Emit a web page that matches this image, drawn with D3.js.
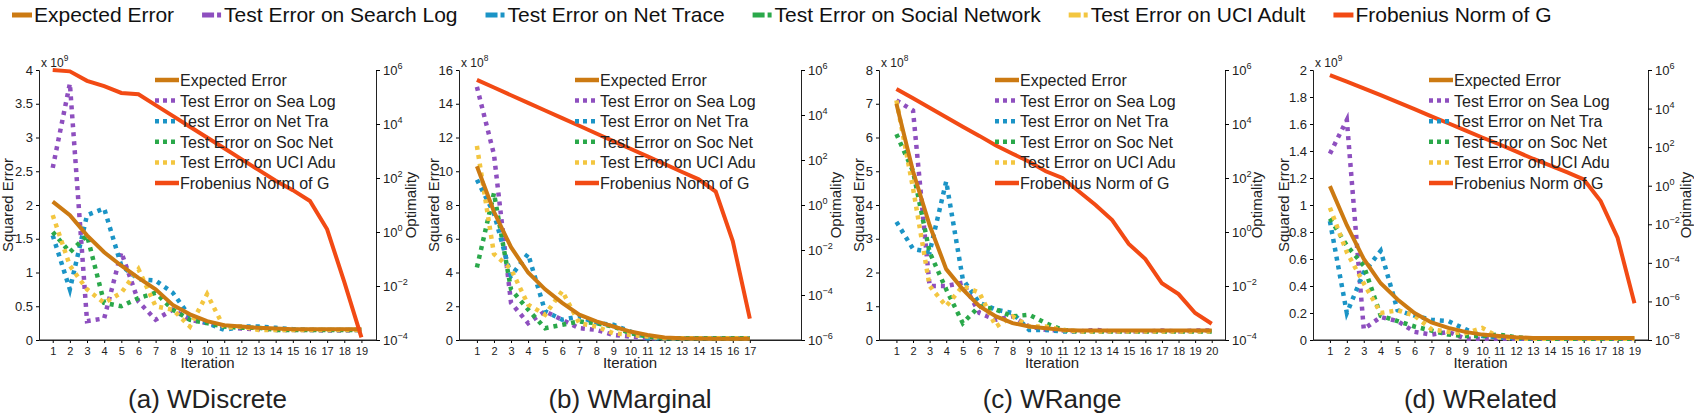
<!DOCTYPE html>
<html><head><meta charset="utf-8">
<script src="https://cdn.jsdelivr.net/npm/d3@7"></script>
<style>body{margin:0;background:#fff}text{font-family:"Liberation Sans",Arial,sans-serif}</style>
</head><body><svg id="c" width="1694" height="416"></svg>
<script>
const seriesNames=["Expected Error","Test Error on Search Log","Test Error on Net Trace","Test Error on Social Network","Test Error on UCI Adult","Frobenius Norm of G"];
const innerNames=["Expected Error","Test Error on Sea Log","Test Error on Net Tra","Test Error on Soc Net","Test Error on UCI Adu","Frobenius Norm of G"];
const colors=["#cc7a12","#8e4fbf","#1b94c6","#2aa84a","#f3c640","#f24a14"];
const titles=["(a) WDiscrete","(b) WMarginal","(c) WRange","(d) WRelated"];
const expA=[2.05,1.85,1.55,1.3,1.1,0.92,0.75,0.52,0.38,0.28,0.22,0.2,0.18,0.17,0.16,0.16,0.16,0.16,0.16];
const seaA=[2.55,3.8,0.28,0.32,1.3,0.57,0.3,0.45,0.3,0.25,0.2,0.17,0.16,0.15,0.15,0.15,0.14,0.14,0.15];
const netA=[1.55,0.75,1.85,1.95,1.1,0.9,0.88,0.7,0.35,0.25,0.15,0.2,0.2,0.18,0.16,0.15,0.15,0.15,0.15];
const socA=[1.6,1.3,1.55,0.55,0.5,0.62,0.7,0.45,0.3,0.25,0.2,0.18,0.18,0.15,0.15,0.15,0.15,0.15,0.15];
const uciA=[1.85,1.1,0.75,0.55,0.7,1.05,0.5,0.45,0.2,0.68,0.18,0.2,0.15,0.15,0.15,0.15,0.15,0.15,0.15];
const frobA=[6.0,5.95,5.6,5.4,5.15,5.1,4.7,4.3,3.9,3.5,3.1,2.7,2.3,1.9,1.55,1.15,0.1,-1.85,-3.9];
const expB=[10.3,7.6,5.5,4.0,3.0,2.2,1.5,1.1,0.8,0.5,0.3,0.15,0.1,0.09,0.08,0.08,0.08];
const seaB=[15,11,2.2,1.0,1.7,1.2,0.7,0.6,0.3,0.2,0.1,0.1,0.1,0.1,0.1,0.1,0.1];
const netB=[9.5,7.5,3.8,5.1,1.7,1.2,1.4,1.0,0.9,0.5,0.1,0.1,0.1,0.1,0.1,0.1,0.1];
const socB=[4.3,8.7,3.0,1.8,0.7,0.9,1.1,1.0,0.8,0.4,0.2,0.1,0.1,0.1,0.1,0.1,0.1];
const uciB=[11.5,5.1,4.2,2.1,1.5,2.9,1.0,0.8,0.4,0.3,0.2,0.1,0.1,0.1,0.1,0.1,0.1];
const frobB=[5.56,5.22,4.88,4.54,4.2,3.86,3.52,3.18,2.84,2.5,2.16,1.82,1.48,1.14,0.6,-1.6,-5.05];
const expC=[7.0,5.0,3.4,2.1,1.5,1.0,0.7,0.5,0.4,0.35,0.3,0.28,0.28,0.28,0.28,0.28,0.28,0.28,0.28,0.28];
const seaC=[7.1,6.8,1.6,1.6,1.7,0.8,0.6,0.7,0.4,0.3,0.28,0.25,0.3,0.25,0.25,0.25,0.28,0.25,0.28,0.28];
const netC=[3.5,2.7,2.6,4.7,1.8,1.1,0.9,0.8,0.3,0.3,0.25,0.25,0.25,0.25,0.25,0.25,0.25,0.25,0.25,0.25];
const socC=[6.1,5.0,2.6,1.5,0.5,1.0,0.9,0.7,0.75,0.5,0.3,0.25,0.25,0.25,0.25,0.25,0.25,0.25,0.25,0.25];
const uciC=[7.1,4.5,1.6,1.0,1.6,1.4,0.4,0.7,0.4,0.4,0.3,0.25,0.25,0.25,0.25,0.25,0.25,0.25,0.25,0.25];
const frobC=[5.3,4.95,4.6,4.25,3.9,3.56,3.2,2.9,2.6,2.25,2.0,1.5,1.0,0.44,-0.44,-1.0,-1.9,-2.3,-3.0,-3.4];
const expD=[1.14,0.85,0.6,0.42,0.3,0.2,0.13,0.09,0.06,0.04,0.03,0.02,0.015,0.015,0.015,0.015,0.015,0.015,0.015];
const seaD=[1.38,1.63,0.08,0.17,0.14,0.06,0.04,0.06,0.01,0.01,0.01,0.01,0.01,0.01,0.01,0.01,0.01,0.01,0.01];
const netD=[0.88,0.2,0.5,0.66,0.22,0.18,0.15,0.14,0.08,0.03,0.02,0.01,0.01,0.01,0.01,0.01,0.01,0.01,0.01];
const socD=[0.9,0.7,0.55,0.18,0.14,0.1,0.07,0.04,0.03,0.03,0.04,0.02,0.01,0.01,0.01,0.01,0.01,0.01,0.01];
const uciD=[0.98,0.65,0.42,0.2,0.22,0.18,0.08,0.06,0.05,0.09,0.02,0.01,0.01,0.01,0.01,0.01,0.01,0.01,0.01];
const frobD=[5.74,5.4,5.05,4.7,4.33,3.97,3.6,3.24,2.87,2.5,2.15,1.78,1.4,1.05,0.7,0.33,-0.8,-2.7,-6.1];

const panels=[
 {x0:39,x1:376,xd:[0.2,19.85],yMax:4,yStep:0.5,exp:9,logMin:-4,logStep:2,data:[expA,seaA,netA,socA,uciA],frob:frobA,yl:7,ol:410},
 {x0:459,x1:801,xd:[-0.05,20],yMax:16,yStep:2,exp:8,logMin:-6,logStep:2,data:[expB,seaB,netB,socB,uciB],frob:frobB,yl:433,ol:835},
 {x0:879,x1:1225,xd:[-0.05,20.8],yMax:8,yStep:1,exp:8,logMin:-4,logStep:2,data:[expC,seaC,netC,socC,uciC],frob:frobC,yl:858,ol:1256},
 {x0:1313,x1:1648,xd:[0,19.8],yMax:2,yStep:0.2,exp:9,logMin:-8,logStep:2,data:[expD,seaD,netD,socD,uciD],frob:frobD,yl:1283,ol:1685}
];
const yTop=70,yBot=340;
const svg=d3.select("#c");
const sup=(g,x,y,base,ex,anchor,size)=>{
  const t=g.append("text").attr("x",x).attr("y",y).attr("text-anchor",anchor).attr("font-size",size).attr("fill","#222");
  t.append("tspan").text(base);
  t.append("tspan").attr("dy",-6).attr("font-size",size*0.7).text(ex);
};
panels.forEach((p,pi)=>{
  const g=svg.append("g");
  const n=p.data[0].length;
  const x=d3.scaleLinear().domain(p.xd).range([p.x0,p.x1]);
  const y=d3.scaleLinear().domain([0,p.yMax]).range([yBot,yTop]);
  const yr=d3.scaleLinear().domain([p.logMin,6]).range([yBot,yTop]);
  const ticks=d3.range(0,p.yMax+1e-9,p.yStep);
  const la=g.append("g").attr("transform",`translate(${p.x0},0)`).call(d3.axisLeft(y).tickValues(ticks).tickSize(3).tickFormat(d=>+d.toFixed(1)));
  la.selectAll("text").attr("font-size",13).attr("fill","#222");
  g.append("g").attr("transform",`translate(${p.x1},0)`).call(d3.axisRight(yr).tickValues(d3.range(p.logMin,6.01,p.logStep)).tickSize(4).tickFormat(""));
  d3.range(p.logMin,6.01,p.logStep).forEach(v=>sup(g,p.x1+7,yr(v)+5,"10",v<0?"\u2212"+(-v):String(v),"start",13));
  const xa=g.append("g").attr("transform",`translate(0,${yBot})`).call(d3.axisBottom(x).tickValues(d3.range(1,n+1)).tickSize(3).tickSizeOuter(0));
  xa.selectAll("text").attr("font-size",11).attr("fill","#222").attr("dy","0.85em");
  g.selectAll(".domain").attr("stroke","#222");
  g.append("line").attr("x1",p.x0).attr("x2",p.x1).attr("y1",yBot).attr("y2",yBot).attr("stroke","#222");
  sup(g,p.x0+2,yTop-3,"x 10",String(p.exp),"start",12);
  g.append("text").attr("x",(p.x0+p.x1)/2).attr("y",368).attr("text-anchor","middle").attr("font-size",15).attr("fill","#222").text("Iteration");
  g.append("text").attr("transform",`translate(${p.yl+6},${(yTop+yBot)/2}) rotate(-90)`).attr("text-anchor","middle").attr("font-size",15).attr("fill","#222").text("Squared Error");
  g.append("text").attr("transform",`translate(${p.ol+6},${(yTop+yBot)/2}) rotate(-90)`).attr("text-anchor","middle").attr("font-size",15).attr("fill","#222").text("Optimality");
  g.append("text").attr("x",(p.x0+p.x1)/2).attr("y",408).attr("text-anchor","middle").attr("font-size",26).attr("fill","#222").text(titles[pi]);
  const line=d3.line().x((d,i)=>x(i+1)).y(d=>y(d));
  [1,2,3,4,0].forEach(si=>{
    g.append("path").attr("d",line(p.data[si])).attr("fill","none").attr("stroke",colors[si]).attr("stroke-width",si==0?4:4.5)
     .attr("stroke-dasharray",si==0?null:"4,5");
  });
  g.append("path").attr("d",d3.line().x((d,i)=>x(i+1)).y(d=>yr(d))(p.frob)).attr("fill","none").attr("stroke",colors[5]).attr("stroke-width",4);
  const lx=p.x0+116;
  innerNames.forEach((nm,i)=>{
    const yy=80+i*20.6;
    g.append("line").attr("x1",lx).attr("x2",lx+24).attr("y1",yy).attr("y2",yy).attr("stroke",colors[i]).attr("stroke-width",4.5)
      .attr("stroke-dasharray",(i==0||i==5)?null:"4,4");
    g.append("text").attr("x",lx+25).attr("y",yy+6).attr("font-size",16).attr("fill","#222").text(nm);
  });
});
let cx=12;
seriesNames.forEach((nm,i)=>{
  svg.append("line").attr("x1",cx).attr("x2",cx+20).attr("y1",15).attr("y2",15).attr("stroke",colors[i]).attr("stroke-width",5)
    .attr("stroke-dasharray",(i==0||i==5)?null:"12,3,4,3");
  const t=svg.append("text").attr("x",cx+22).attr("y",22).attr("font-size",21).attr("fill","#111")
    .style("font-family","'Liberation Sans Narrow','Liberation Sans',sans-serif").text(nm);
  cx+=22+t.node().getComputedTextLength()+28;
});
</script></body></html>
